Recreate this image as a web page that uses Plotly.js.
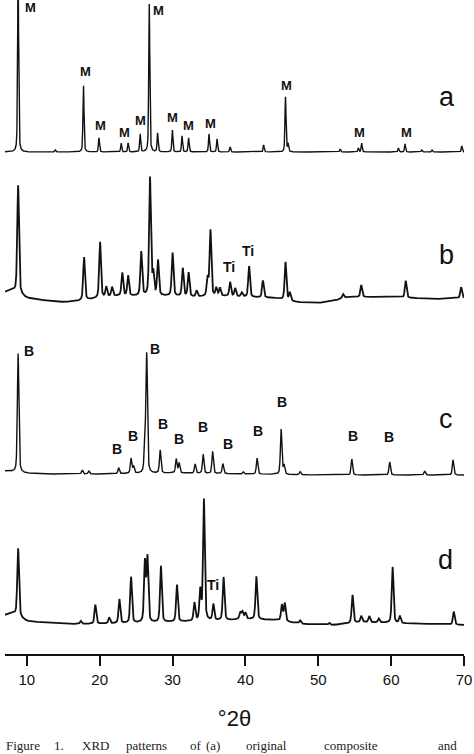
<!DOCTYPE html>
<html>
<head>
<meta charset="utf-8">
<script src="https://cdn.plot.ly/plotly-3.0.1.min.js"></script>
<style>html,body{margin:0;padding:0;background:#fff;}#chart{width:474px;height:754px;}</style>
</head>
<body>
<div id="chart"></div>
<script>
// ---- Data (x in °2θ, y in stacked-offset units) ----
const xTicks = [10, 20, 30, 40, 50, 60, 70];

// Pattern a (original composite)
const aBgX = [7, 70];
const aBgY = [502, 502];
const aPos = [8.8, 13.9, 17.77, 19.9, 22.95, 23.9, 25.55, 26.8, 27.95, 29.97, 31.3, 32.2, 35.0, 36.1, 37.9, 42.5, 45.5, 45.85, 53.0, 55.5, 55.95, 61.0, 61.9, 64.2, 65.6, 69.7];
const aHeight = [175, 2, 67, 14, 9, 9, 18, 148, 19, 22, 16, 14, 18, 13, 5, 7, 55, 8, 3, 4, 9, 4, 8, 2, 2, 6];

// Pattern b
const bBgX = [7, 8, 9.5, 10, 12, 15, 17, 19, 22, 25, 30, 33, 37, 40, 44, 47, 50, 52, 54, 57, 60, 63, 66, 70];
const bBgY = [362, 364, 358, 356, 354, 352, 353, 355, 358, 358, 358, 357, 358, 357, 356, 352, 351, 353, 357, 357, 357, 356, 355, 356];
const bPos = [8.8, 17.85, 20.05, 20.9, 21.7, 23.1, 23.9, 25.7, 26.9, 27.35, 28.0, 30.0, 31.4, 32.2, 33.3, 34.8, 35.2, 36.0, 36.5, 37.9, 38.6, 39.5, 40.5, 42.4, 45.5, 46.1, 53.4, 55.9, 62.0, 69.6];
const bHeight = [108, 43, 56, 10, 9, 23, 20, 44, 118, 22, 35, 43, 28, 24, 6, 18, 66, 8, 8, 14, 8, 4, 31, 17, 38, 8, 4, 12, 17, 11];

// Pattern c
const cBgX = [7, 9.5, 12, 20, 30, 40, 50, 60, 70];
const cBgY = [183, 181, 180, 180, 181, 180, 179, 179, 179];
const cPos = [8.8, 17.6, 18.5, 22.6, 24.3, 24.65, 26.2, 26.45, 28.3, 30.5, 30.9, 33.1, 34.2, 35.5, 36.9, 39.7, 41.6, 44.9, 45.3, 47.5, 54.6, 59.8, 64.6, 68.5];
const cHeight = [119, 4, 3, 6, 15, 7, 30, 118, 23, 14, 10, 9, 19, 22, 10, 2, 16, 45, 9, 3, 16, 13, 4, 15];

// Pattern d
const dBgX = [7, 8, 9.5, 10, 13, 16, 18, 25, 30, 38, 40, 44, 48, 52, 56, 60, 66, 70];
const dBgY = [39, 41, 35, 33, 31, 30, 30, 31, 32, 34, 35, 34, 30, 29, 32, 31, 30, 29];
const dPos = [8.8, 17.4, 19.4, 21.3, 22.7, 24.3, 26.2, 26.55, 28.4, 30.6, 33.0, 33.8, 34.3, 35.6, 37.0, 39.3, 39.6, 40.0, 41.5, 45.0, 45.4, 47.5, 51.5, 54.7, 55.9, 57.0, 58.3, 60.2, 61.2, 68.6];
const dHeight = [68, 3, 19, 6, 24, 46, 60, 64, 56, 37, 18, 30, 121, 16, 43, 7, 7, 6, 43, 16, 18, 3, 2, 28, 6, 6, 4, 56, 7, 13];

// Labels
const mLabelX = [10.45, 18.0, 20.05, 23.36, 25.55, 28.0, 29.93, 32.13, 35.14, 45.57, 55.72, 62.17];
const mLabelY = [647, 583, 529, 522, 534, 644, 537, 529, 531, 569, 522, 522];
const bLabelX = [10.3, 22.4, 24.5, 27.6, 28.7, 30.9, 34.2, 37.6, 41.73, 45.03, 54.77, 59.7];
const bLabelY = [303, 205, 218, 305, 230, 215, 227, 210, 223, 252, 218, 217];
const tiLabelX = [37.78, 40.38, 35.56];
const tiLabelY = [387, 403, 69];
const panelLabels = ['a', 'b', 'c', 'd'];
const panelLabelX = [67.6, 67.6, 67.5, 67.5];
const panelLabelY = [557, 399, 235, 94];
const xTitle = '°2θ';
const captionWords = ['Figure', '1.', 'XRD', 'patterns', 'of', '(a)', 'original', 'composite', 'and'];
const captionX = [0, 50, 78, 124, 190, 207, 248, 328, 446];

// ---- Build curves ----
function interp(x, xs, ys) {
  if (x <= xs[0]) return ys[0];
  for (let i = 1; i < xs.length; i++) {
    if (x <= xs[i]) {
      const t = (x - xs[i - 1]) / (xs[i] - xs[i - 1]);
      return ys[i - 1] + t * (ys[i] - ys[i - 1]);
    }
  }
  return ys[ys.length - 1];
}
function buildCurve(bgX, bgY, pos, hgt, fwhm) {
  const xs = [], ys = [];
  const g = fwhm / 2;
  const sig = fwhm / 2.3548;
  for (let i = 0; i <= 3150; i++) {
    const x = 7 + i * 0.02;
    let y = interp(x, bgX, bgY);
    for (let k = 0; k < pos.length; k++) {
      const d = x - pos[k];
      const L = 1 / (1 + (d / g) * (d / g));
      const G = Math.exp(-0.5 * (d / sig) * (d / sig));
      y += hgt[k] * (0.45 * L + 0.55 * G);
    }
    xs.push(x); ys.push(y);
  }
  return {x: xs, y: ys};
}

const curves = [
  buildCurve(aBgX, aBgY, aPos, aHeight, 0.17),
  buildCurve(bBgX, bBgY, bPos, bHeight, 0.28),
  buildCurve(cBgX, cBgY, cPos, cHeight, 0.24),
  buildCurve(dBgX, dBgY, dPos, dHeight, 0.28)
];
const widths = [1.4, 1.8, 1.4, 1.8];
const traces = curves.map((c, i) => ({
  x: c.x, y: c.y, type: 'scatter', mode: 'lines',
  line: {color: '#111', width: widths[i]}, hoverinfo: 'skip', showlegend: false
}));

const annotations = [];
const labelFont = 'Arial, "Liberation Sans", sans-serif';
mLabelX.forEach((x, i) => annotations.push({x: x, y: mLabelY[i], xref: 'x', yref: 'y', text: '<b>M</b>', showarrow: false, font: {family: labelFont, size: 13, color: '#111'}}));
bLabelX.forEach((x, i) => annotations.push({x: x, y: bLabelY[i], xref: 'x', yref: 'y', text: '<b>B</b>', showarrow: false, font: {family: labelFont, size: 14, color: '#111'}}));
tiLabelX.forEach((x, i) => annotations.push({x: x, y: tiLabelY[i], xref: 'x', yref: 'y', text: '<b>Ti</b>', showarrow: false, font: {family: labelFont, size: 14, color: '#111'}}));
panelLabels.forEach((t, i) => annotations.push({x: panelLabelX[i], y: panelLabelY[i], xref: 'x', yref: 'y', text: t, showarrow: false, font: {family: labelFont, size: 27, color: '#111'}}));
captionWords.forEach((w, i) => annotations.push({x: captionX[i] / 474, y: 0.0, xref: 'paper', yref: 'paper', xanchor: 'left', yanchor: 'bottom', yshift: -100, text: w, showarrow: false, borderpad: 0, font: {family: '"Liberation Serif", "Times New Roman", serif', size: 13, color: '#222'}}));

const layout = {
  width: 474, height: 754,
  margin: {l: 5, r: 10, t: 0, b: 100, pad: 0},
  paper_bgcolor: '#fff', plot_bgcolor: '#fff',
  showlegend: false,
  xaxis: {
    range: [7, 70], tickvals: xTicks, ticktext: xTicks.map(String),
    showgrid: false, zeroline: false, showline: true, linecolor: '#111', linewidth: 2,
    ticks: 'outside', ticklen: 10, tickwidth: 2, tickcolor: '#111',
    tickfont: {family: labelFont, size: 15, color: '#111'},
    ticklabelstandoff: 1,
    title: {text: xTitle, font: {family: labelFont, size: 22, color: '#111'}, standoff: 24},
    automargin: false
  },
  yaxis: {range: [0, 654], visible: false, showgrid: false, zeroline: false, fixedrange: true},
  annotations: annotations
};

Plotly.newPlot('chart', traces, layout, {displayModeBar: false, staticPlot: true});
</script>
</body>
</html>
